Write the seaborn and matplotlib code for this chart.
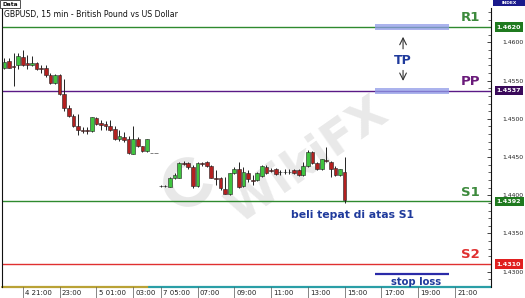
import numpy as np
import pandas as pd
import matplotlib
matplotlib.use("Agg")
import matplotlib.pyplot as plt
import matplotlib.transforms as mtransforms
from matplotlib.patches import Rectangle, Arc
import seaborn as sns

# ---------------- data ----------------
slot_start = -4          # first 15-min slot (slot 0 = "4 21:00")
opens = [1.4567, 1.4576, 1.4569, 1.4570, 1.4581, 1.4573, 1.4571, 1.4573, 1.4567, 1.4566,
         1.4558, 1.4547, 1.4557, 1.4532, 1.4514, 1.4504, 1.4491, 1.4486, 1.4485, 1.4484,
         1.4501, 1.4494, 1.4493, 1.4491, 1.4487, 1.4473, 1.4476, 1.4473, 1.4454, 1.4474,
         1.4464, 1.4458, 1.4455, 1.4455,
         1.4412, 1.4412, 1.4411, 1.4422, 1.4423, 1.4442, 1.4442, 1.4437, 1.4412, 1.4442,
         1.4443, 1.4438, 1.4422, 1.4422, 1.4408, 1.4402, 1.4429, 1.4435, 1.4412, 1.4429,
         1.4420, 1.4420, 1.4425, 1.4437, 1.4433, 1.4434, 1.4430, 1.4431, 1.4430, 1.4433,
         1.4433, 1.4427, 1.4438, 1.4456, 1.4442, 1.4434, 1.4446, 1.4444, 1.4436, 1.4427,
         1.4430]
highs = [1.4579, 1.4580, 1.4586, 1.4586, 1.4590, 1.4583, 1.4582, 1.4575, 1.4570, 1.4570,
         1.4560, 1.4559, 1.4559, 1.4552, 1.4518, 1.4507, 1.4507, 1.4489, 1.4489, 1.4503,
         1.4502, 1.4499, 1.4497, 1.4498, 1.4490, 1.4485, 1.4483, 1.4477, 1.4491, 1.4476,
         1.4465, 1.4474, 1.4455, 1.4455,
         1.4413, 1.4413, 1.4424, 1.4429, 1.4444, 1.4445, 1.4444, 1.4439, 1.4443, 1.4444,
         1.4445, 1.4440, 1.4433, 1.4424, 1.4424, 1.4429, 1.4437, 1.4444, 1.4437, 1.4433,
         1.4426, 1.4431, 1.4439, 1.4439, 1.4436, 1.4436, 1.4433, 1.4434, 1.4435, 1.4435,
         1.4435, 1.4444, 1.4459, 1.4458, 1.4444, 1.4448, 1.4463, 1.4445, 1.4438, 1.4435,
         1.4450]
lows = [1.4565, 1.4566, 1.4543, 1.4565, 1.4569, 1.4565, 1.4569, 1.4564, 1.4560, 1.4555,
        1.4546, 1.4546, 1.4531, 1.4510, 1.4503, 1.4489, 1.4479, 1.4482, 1.4480, 1.4483,
        1.4492, 1.4485, 1.4486, 1.4484, 1.4472, 1.4471, 1.4470, 1.4454, 1.4454, 1.4463,
        1.4457, 1.4457, 1.4455, 1.4455,
        1.4411, 1.4411, 1.4411, 1.4421, 1.4423, 1.4439, 1.4435, 1.4410, 1.4411, 1.4438,
        1.4437, 1.4422, 1.4413, 1.4407, 1.4402, 1.4401, 1.4428, 1.4410, 1.4411, 1.4418,
        1.4413, 1.4419, 1.4424, 1.4428, 1.4431, 1.4426, 1.4426, 1.4428, 1.4428, 1.4428,
        1.4425, 1.4425, 1.4437, 1.4441, 1.4433, 1.4433, 1.4444, 1.4424, 1.4425, 1.4425,
        1.4390]
closes = [1.4575, 1.4567, 1.4568, 1.4582, 1.4571, 1.4571, 1.4573, 1.4565, 1.4565, 1.4558,
          1.4547, 1.4557, 1.4532, 1.4514, 1.4504, 1.4490, 1.4485, 1.4484, 1.4484, 1.4502,
          1.4493, 1.4492, 1.4490, 1.4485, 1.4473, 1.4477, 1.4472, 1.4455, 1.4474, 1.4464,
          1.4458, 1.4473, 1.4455, 1.4455,
          1.4412, 1.4412, 1.4423, 1.4426, 1.4442, 1.4441, 1.4437, 1.4412, 1.4442, 1.4441,
          1.4438, 1.4423, 1.4421, 1.4409, 1.4402, 1.4429, 1.4434, 1.4411, 1.4430, 1.4421,
          1.4419, 1.4429, 1.4438, 1.4429, 1.4432, 1.4428, 1.4431, 1.4430, 1.4431, 1.4429,
          1.4427, 1.4438, 1.4457, 1.4442, 1.4434, 1.4447, 1.4445, 1.4435, 1.4427, 1.4434,
          1.4394]

tick_slots = [0, 8, 16, 24, 30, 38, 46, 54, 62, 70, 78, 86, 94]
tick_labels = ["4 21:00", "23:00", "5 01:00", "03:00", "7 05:00", "07:00", "09:00",
               "11:00", "13:00", "15:00", "17:00", "19:00", "21:00"]

level_names = ["R1", "PP", "S1", "S2"]
level_values = [1.4620, 1.4537, 1.4392, 1.4310]
y_ticks = [1.4300, 1.4350, 1.4400, 1.4450, 1.4500, 1.4550, 1.4600]

title = "GBPUSD, 15 min - British Pound vs US Dollar"

# ---------------- style ----------------
sns.set_theme(style="white")
plt.rcParams["font.family"] = ["DejaVu Sans"]

df = pd.DataFrame({"open": opens, "high": highs, "low": lows, "close": closes})
df["slot"] = np.arange(len(df)) + slot_start
df["up"] = df["close"] >= df["open"]
df["bottom"] = df[["open", "close"]].min(axis=1)
df["height"] = np.maximum((df["close"] - df["open"]).abs(), 0.00005)

fig = plt.figure(figsize=(5.25, 2.98), dpi=100)
ax = fig.add_axes([0.004, 0.037, 0.931, 0.936])
ax.set_xlim(-4.5, 101.8)
ax.set_ylim(1.4280, 1.4645)

# watermark
ax.text(62, 1.4445, "WikiFX", color="#9a9a9a", alpha=0.22, fontsize=34,
        fontweight="bold", rotation=35, ha="center", va="center", zorder=1)
ax.add_patch(Arc((188, 298 - 182), 40, 40, angle=35, theta1=40, theta2=320,
                 transform=mtransforms.IdentityTransform(), color="#9a9a9a",
                 alpha=0.22, lw=7, zorder=1))

# wicks
ax.vlines(df["slot"], df["low"], df["high"], color="#222222", lw=0.7, zorder=3)
# bodies
body_cols = np.where(df["up"], "#3fc43f", "#b32020")
ax.bar(df["slot"], df["height"], bottom=df["bottom"], width=0.8, color=body_cols,
       edgecolor="#222222", linewidth=0.4, zorder=4)

# level lines
level_colors = ["#2f8a2f", "#5a1a86", "#2f8a2f", "#e03030"]
text_colors = ["#3c8a3c", "#6a1b7a", "#3c8a3c", "#e03030"]
tag_colors = ["#1f7a1f", "#3a0a5a", "#1f7a1f", "#e02020"]
trans = mtransforms.blended_transform_factory(ax.transAxes, ax.transData)
for name, val, lc, tc, gc in zip(level_names, level_values, level_colors, text_colors, tag_colors):
    ax.axhline(val, color=lc, lw=1.0, zorder=2)
    ax.text(97.4, val + 0.00035, name, color=tc, fontsize=9.5, fontweight="bold",
            ha="center", va="bottom", zorder=6)
    ax.text(1.012, val, f"{val:.4f}", transform=trans, color="white", fontsize=4.6,
            fontweight="bold", ha="left", va="center", clip_on=False, zorder=7,
            bbox=dict(boxstyle="square,pad=0.35", fc=gc, ec="none"))

# TP zones
for val in level_values[:2]:
    ax.add_patch(Rectangle((76.6, val - 0.0004), 16.1, 0.0008, fc="#8f9ae8",
                           ec="none", alpha=0.75, zorder=3))
ax.text(82.7, 1.4577, "TP", color="#1f3a9c", fontsize=9, fontweight="bold",
        ha="center", va="center", zorder=6)
ax.annotate("", xy=(82.7, 1.4611), xytext=(82.7, 1.4588),
            arrowprops=dict(arrowstyle="->", color="#333333", lw=0.8))
ax.annotate("", xy=(82.7, 1.4546), xytext=(82.7, 1.4567),
            arrowprops=dict(arrowstyle="->", color="#333333", lw=0.8))

ax.text(71.6, 1.4374, "beli tepat di atas S1", color="#1f3a9c", fontsize=7.8,
        fontweight="bold", ha="center", va="center", zorder=6)
ax.hlines(1.42976, 76.6, 92.7, color="#2a2aa8", lw=1.6, zorder=5)
ax.text(85.5, 1.42860, "stop loss", color="#1f3a9c", fontsize=7.2,
        fontweight="bold", ha="center", va="center", zorder=6)

# title
ax.text(0.004, 0.978, title, transform=ax.transAxes, fontsize=5.6, color="#111111",
        ha="left", va="center", zorder=6)

# y axis on right
ax.yaxis.tick_right()
ax.set_yticks(y_ticks)
ax.set_yticklabels([f"{v:.4f}" for v in y_ticks], fontsize=4.4, color="#222222")
ax.set_yticks(np.arange(1.4290, 1.4645, 0.0010), minor=True)
ax.tick_params(axis="y", which="major", direction="in", length=3, width=0.6,
               pad=8, right=True, left=False, color="#222222")
ax.tick_params(axis="y", which="minor", direction="in", length=2, width=0.5,
               right=True, left=False, color="#222222")
ax.set_xticks([])
ax.spines["top"].set_visible(False)
ax.spines["right"].set_color("#111111")
ax.spines["right"].set_linewidth(0.8)
ax.spines["left"].set_color("#111111")
ax.spines["left"].set_linewidth(0.8)
ax.spines["bottom"].set_visible(False)

# bottom two-colour axis line
btrans = mtransforms.blended_transform_factory(ax.transData, ax.transAxes)
ax.plot([-4.5, 27.5], [0, 0], transform=btrans, color="#b9a236", lw=1.6, clip_on=False)
ax.plot([27.5, 101.8], [0, 0], transform=btrans, color="#2a9ea6", lw=1.6, clip_on=False)

# time labels with separators
for pos, lab in zip(tick_slots, tick_labels):
    ax.plot([pos, pos], [0, -0.045], transform=btrans, color="#555555", lw=0.5,
            clip_on=False)
    ax.text(pos + 0.5, -0.021, lab, transform=btrans, fontsize=5.0, color="#222222",
            ha="left", va="center", clip_on=False)

# header boxes
fig.patches.append(Rectangle((0, 290 / 298), 20 / 525, 8 / 298, transform=fig.transFigure,
                             fc="white", ec="#333333", lw=0.6))
fig.text(10 / 525, 294 / 298, "Data", fontsize=4.2, fontweight="bold", ha="center",
         va="center", color="#111111")
fig.patches.append(Rectangle((493 / 525, 292 / 298), 32 / 525, 6 / 298,
                             transform=fig.transFigure, fc="#1a1a8c", ec="none"))
fig.text(509 / 525, 295.5 / 298, "INDEX", fontsize=3.2, fontweight="bold", ha="center",
         va="center", color="white")

fig.savefig("out.png", dpi=100)
